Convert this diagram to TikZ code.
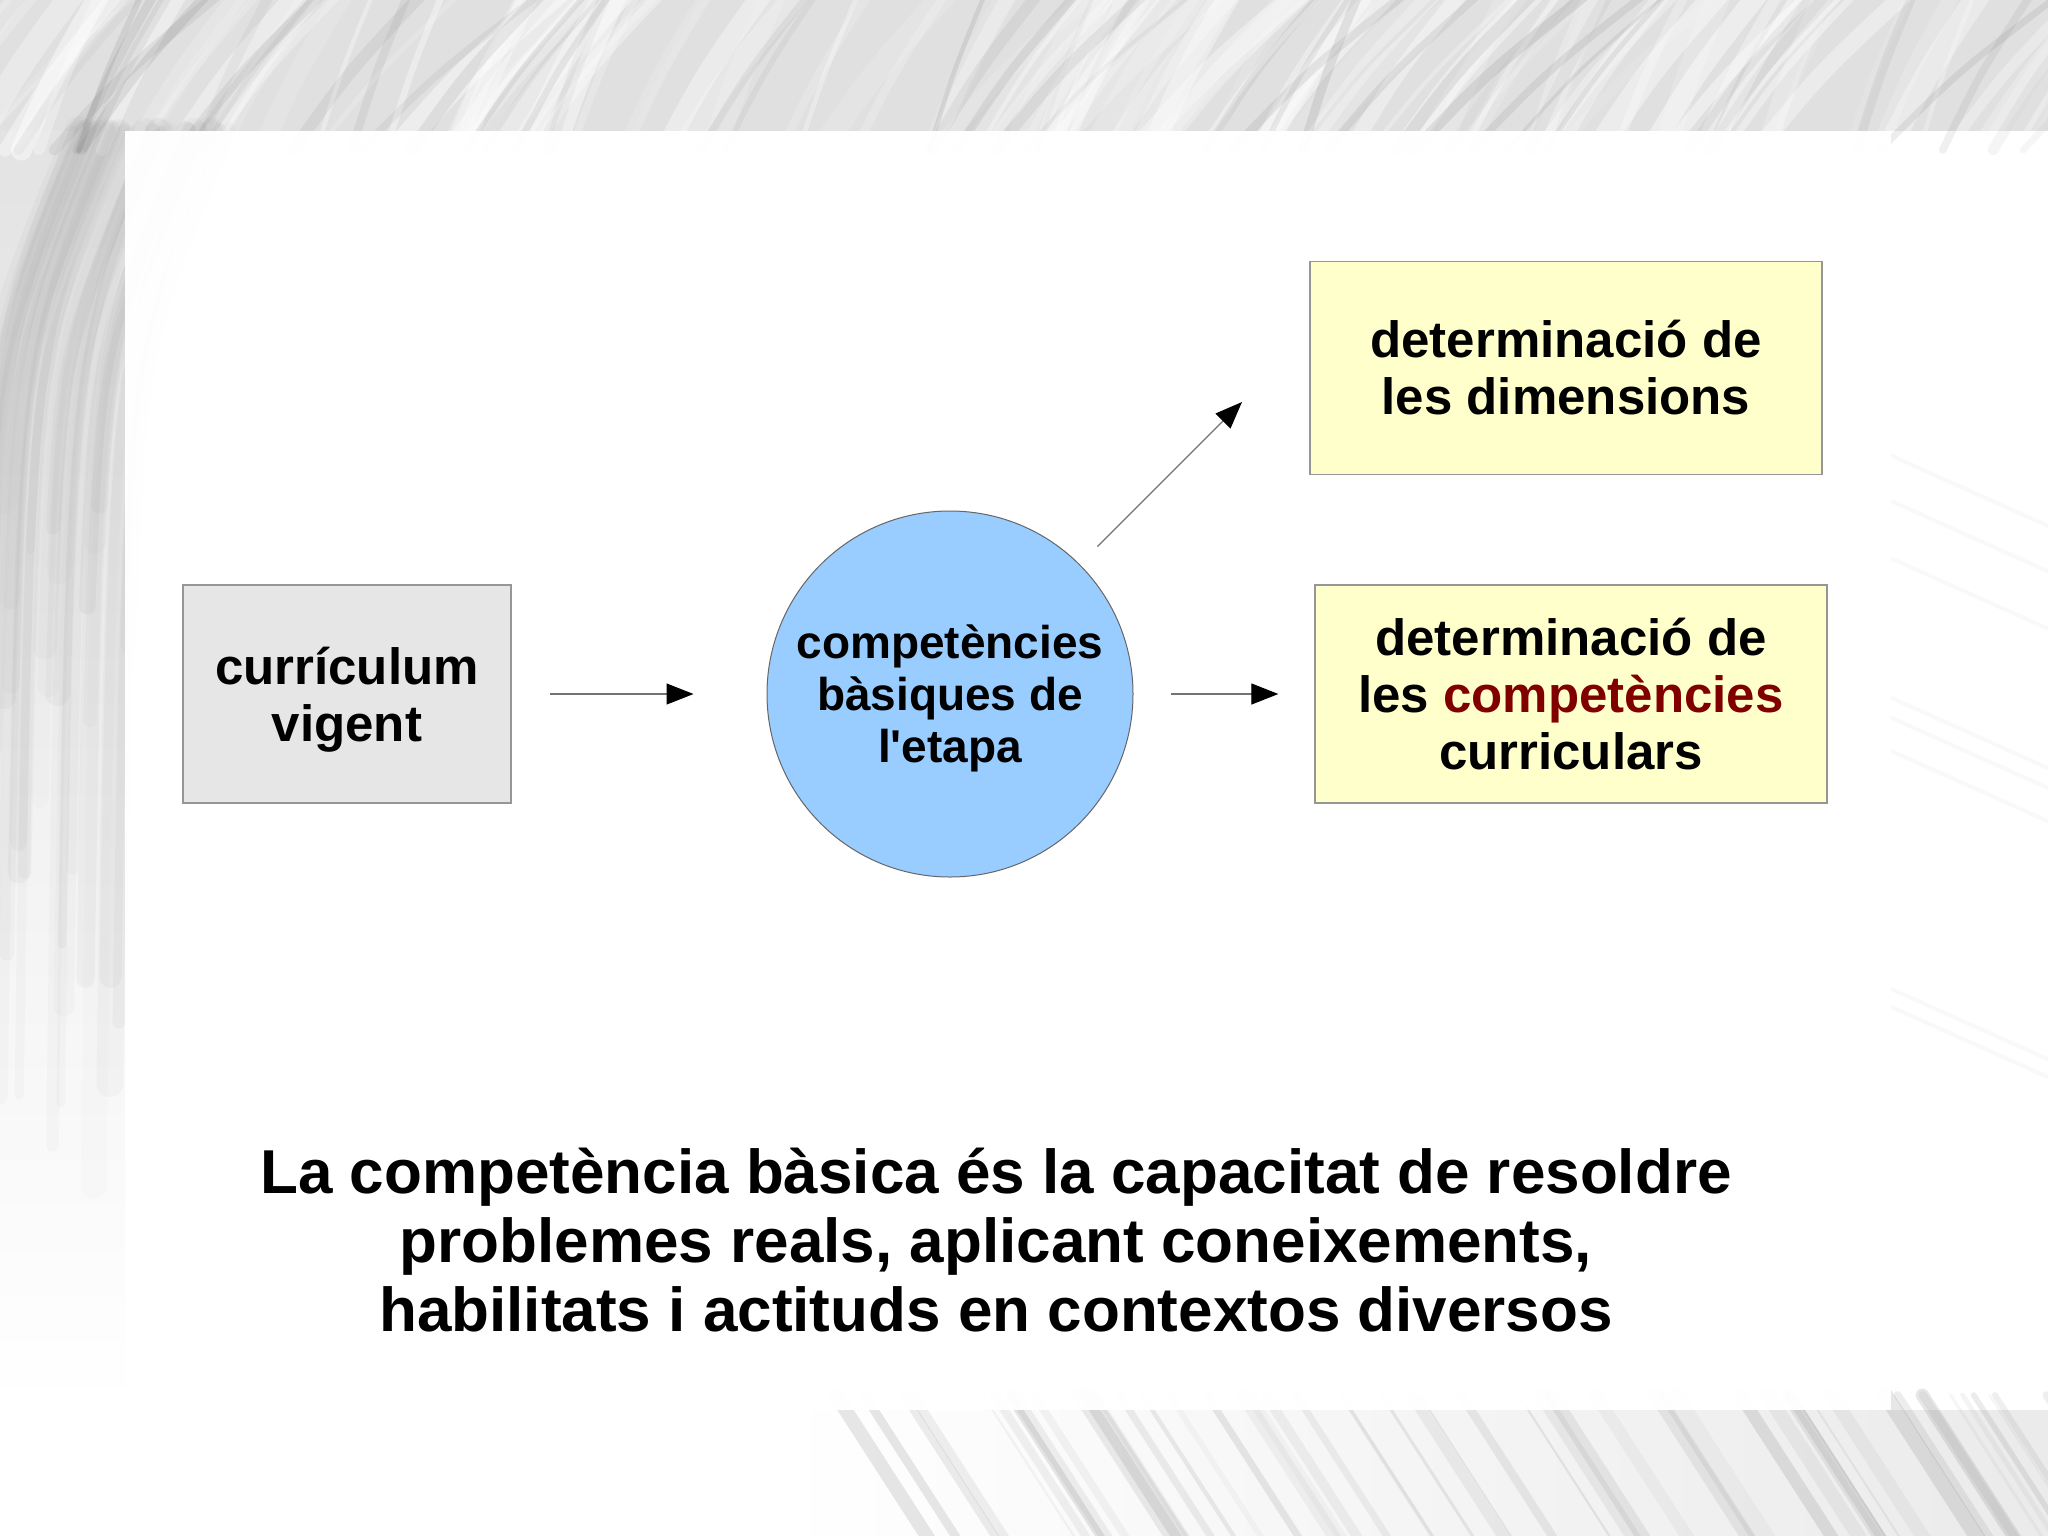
\documentclass[tikz,border=0pt]{standalone}
\usepackage{fontspec}
\setmainfont{Liberation Sans}
\usetikzlibrary{arrows.meta,positioning}

\begin{document}
\begin{tikzpicture}[x=1pt,y=-1pt,
    box/.style={draw=boxline, line width=1.3pt, rectangle, inner sep=0pt, align=center,
      font=\fontsize{51}{57}\selectfont\bfseries},
    conn/.style={draw=black!55, line width=1.2pt, -{Triangle[length=27pt,width=21pt,color=black]}},
    streak/.style={line cap=round}
  ]
        \definecolor{currgray}{RGB}{230,230,230}
        \definecolor{boxline}{RGB}{150,150,150}
        \definecolor{compblue}{RGB}{153,204,255}
        \definecolor{detyellow}{RGB}{255,255,204}
        \definecolor{compred}{RGB}{128,0,0}

        \useasboundingbox (0,0) rectangle (2048,1535);

        % Feather background
        \fill[white] (0,0) rectangle (2048,1535);
        \fill[black!12] (0,0) rectangle (2048,131);
        \shade[top color=black!11, bottom color=white] (0,131) rectangle (125,1410);
        \shade[left color=white, right color=black!8] (780,1410) rectangle (2048,1535);
        \begin{scope}
            \clip (0,0) rectangle (2048,1535);
            \pgfmathsetseed{11}
            % top band
            \foreach \k in {1,...,120}{
                \pgfmathsetmacro{\xs}{-250+rnd*2300}
                \pgfmathsetmacro{\op}{0.10+rnd*0.35}
                \pgfmathsetmacro{\lw}{4+rnd*22}
                \pgfmathsetmacro{\dx}{60+rnd*120}
                \draw[streak, white, line width=\lw pt, opacity=\op] (\xs,150) .. controls (\xs+0.4*\dx,70) .. (\xs+\dx,-20);
            }
            \foreach \k in {1,...,50}{
                \pgfmathsetmacro{\xs}{-250+rnd*2300}
                \pgfmathsetmacro{\op}{0.04+rnd*0.10}
                \pgfmathsetmacro{\lw}{3+rnd*10}
                \pgfmathsetmacro{\dx}{60+rnd*140}
                \draw[streak, black!60, line width=\lw pt, opacity=\op] (\xs,150) .. controls (\xs+0.4*\dx,70) .. (\xs+\dx,-20);
            }
            % bottom band
            \foreach \k in {1,...,50}{
                \pgfmathsetmacro{\xs}{820+rnd*1250}
                \pgfmathsetmacro{\op}{0.04+rnd*0.12}
                \pgfmathsetmacro{\lw}{2+rnd*14}
                \draw[streak, black!60, line width=\lw pt, opacity=\op] (\xs,1395) -- (\xs+100,1550);
            }
            % left strip
            \foreach \k in {1,...,40}{
                \pgfmathsetmacro{\xs}{-40+rnd*160}
                \pgfmathsetmacro{\op}{0.02+rnd*0.05}
                \pgfmathsetmacro{\lw}{8+rnd*20}
                \pgfmathsetmacro{\ye}{500+rnd*700}
                \draw[streak, black!50, line width=\lw pt, opacity=\op] (\xs+110,130) .. controls (\xs+20,350) .. (\xs+10,\ye);
            }
            % right edge strokes
            \foreach \k in {1,...,8}{
                \pgfmathsetmacro{\ys}{200+rnd*1100}
                \draw[streak, black!40, line width=4pt, opacity=0.06] (1892,\ys) -- (2048,\ys+70);
            }
        \end{scope}

        % White panel
        \fill[white, opacity=0.96] (125,131) rectangle (1891,1410);

        % Nodes
        \node[box, fill=currgray, minimum width=328pt, minimum height=218pt, text depth=0pt] (curr) at (347,694) {currículum\\vigent};
        \node[circle, draw=black!60, line width=1pt, fill=compblue, minimum size=366pt, inner sep=0pt, align=center,
              text depth=0pt, font=\fontsize{46}{52}\selectfont\bfseries] (comp) at (950,694) {competències\\bàsiques de\\l\textquotesingle etapa};
        \node[box, fill=detyellow, minimum width=512pt, minimum height=213pt] (dim) at (1566,368) {determinació de\\les dimensions};
        \node[box, fill=detyellow, minimum width=512pt, minimum height=218pt] (curric) at (1571,694) {determinació de\\les \textcolor{compred}{competències}\\curriculars};
        \coordinate (dimtip) at (1242,402);

        % Connectors
        \draw[conn, shorten <=38pt, shorten >=73pt] (curr) -- (comp);
        \draw[conn, shorten <=37pt, shorten >=36pt] (comp) -- (curric);
        \draw[conn, shorten <=25pt] (comp.45) -- (dimtip);

        % Definition
        \node[align=center, font=\fontsize{62}{69}\selectfont\bfseries] (defin) at (996,1240)
            {La competència bàsica és la capacitat de resoldre\\problemes reals, aplicant coneixements,\\habilitats i actituds en contextos diversos};
\end{tikzpicture}
\end{document}
